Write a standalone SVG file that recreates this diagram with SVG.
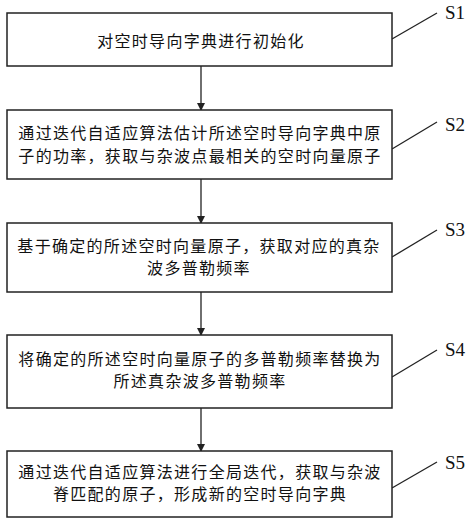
<svg xmlns="http://www.w3.org/2000/svg" width="474" height="522" viewBox="0 0 474 522">
<style>
.box{fill:#fff;stroke:#222;stroke-width:1.5}
.t{font-family:"Noto Sans CJK SC","Noto Sans",sans-serif;font-size:16px;letter-spacing:1.3px;fill:#111;text-anchor:middle;dominant-baseline:central}
.lbl{font-family:"Liberation Serif",serif;font-size:19px;fill:#111}
.ln{stroke:#222;stroke-width:1.3;fill:none}
</style>
<defs>
<marker id="ah" markerWidth="8" markerHeight="8" refX="7" refY="4" orient="auto" markerUnits="userSpaceOnUse">
<path d="M0,0 L8,4 L0,8 Z" fill="#222"/>
</marker>
</defs>
<rect width="474" height="522" fill="#fff"/>
<g id="connectors">
<line class="ln" x1="201" y1="66" x2="201" y2="110" marker-end="url(#ah)"/>
<line class="ln" x1="201" y1="179" x2="201" y2="223" marker-end="url(#ah)"/>
<line class="ln" x1="201" y1="292" x2="201" y2="335" marker-end="url(#ah)"/>
<line class="ln" x1="201" y1="408" x2="201" y2="451" marker-end="url(#ah)"/>
<line class="ln" x1="392" y1="39" x2="437" y2="13"/>
<line class="ln" x1="392" y1="149" x2="437" y2="122"/>
<line class="ln" x1="392" y1="257" x2="437" y2="230"/>
<line class="ln" x1="392" y1="377" x2="437" y2="350"/>
<line class="ln" x1="392" y1="488" x2="437" y2="462"/>
</g>
<g id="S1">
<rect class="box" x="7" y="13" width="385" height="53"/>
<text class="t" x="201" y="40">对空时导向字典进行初始化</text>
<text class="lbl" x="445" y="19">S1</text>
</g>
<g id="S2">
<rect class="box" x="7" y="110" width="385" height="69"/>
<text class="t" x="200" y="132">通过迭代自适应算法估计所述空时导向字典中原</text>
<text class="t" x="200" y="155">子的功率，获取与杂波点最相关的空时向量原子</text>
<text class="lbl" x="445" y="131">S2</text>
</g>
<g id="S3">
<rect class="box" x="7" y="223" width="385" height="69"/>
<text class="t" x="199" y="245">基于确定的所述空时向量原子，获取对应的真杂</text>
<text class="t" x="199" y="267">波多普勒频率</text>
<text class="lbl" x="445" y="236">S3</text>
</g>
<g id="S4">
<rect class="box" x="7" y="335" width="385" height="73"/>
<text class="t" x="200" y="358">将确定的所述空时向量原子的多普勒频率替换为</text>
<text class="t" x="200" y="380">所述真杂波多普勒频率</text>
<text class="lbl" x="445" y="356">S4</text>
</g>
<g id="S5">
<rect class="box" x="7" y="451" width="385" height="66"/>
<text class="t" x="200" y="471">通过迭代自适应算法进行全局迭代，获取与杂波</text>
<text class="t" x="200" y="493">脊匹配的原子，形成新的空时导向字典</text>
<text class="lbl" x="445" y="469">S5</text>
</g>
</svg>
